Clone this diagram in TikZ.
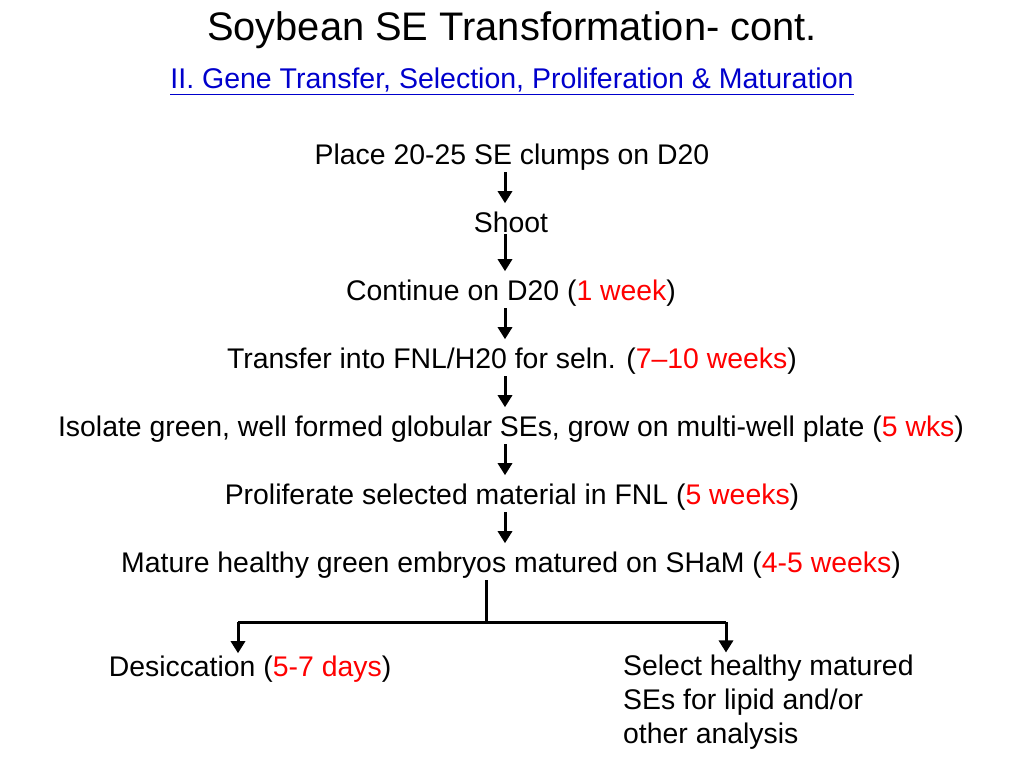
\documentclass[tikz,border=0pt]{standalone}
\usepackage{fontspec}
\setmainfont{Liberation Sans}
\usetikzlibrary{arrows.meta,positioning}
\definecolor{linkblue}{RGB}{0,0,204}
\definecolor{timered}{RGB}{255,0,0}
\newcommand{\dur}[1]{\textcolor{timered}{#1}}
\tikzset{
  stepnode/.style={anchor=base,inner sep=2bp,font=\fontsize{28.5}{34}\selectfont},
  flow/.style={line width=3bp,shorten >=6bp,-{Triangle[width=14bp,length=12bp]}},
  trunk/.style={line width=3bp}
}

\begin{document}
\begin{tikzpicture}[x=1bp,y=-1bp]
			\useasboundingbox (0,0) rectangle (1024,768);
			\node[anchor=base,font=\fontsize{40}{44}\selectfont] (title) at (512,41) {Soybean SE Transformation- cont.};
			\node[anchor=base,font=\fontsize{28.6}{32}\selectfont,text=linkblue] (sub) at (512,89) {\underline{II. Gene Transfer, Selection, Proliferation \&\ Maturation}};

			\node[stepnode] (place) at (512,164) {Place 20-25 SE clumps on D20};
			\node[stepnode] (shoot) at (511,232) {Shoot};
			\node[stepnode] (cont) at (511,300) {Continue on D20 (\dur{1 week})};
			\node[stepnode] (trans) at (512,368) {Transfer into FNL/H20 for seln. (\dur{7--10 weeks})};
			\node[stepnode] (iso) at (511,436) {Isolate green, well formed globular SEs, grow on multi-well plate (\dur{5 wks})};
			\node[stepnode] (prolif) at (512,504) {Proliferate selected material in FNL (\dur{5 weeks})};
			\node[stepnode] (mature) at (511,572) {Mature healthy green embryos matured on SHaM (\dur{4-5 weeks})};
			\node[stepnode] (desic) at (250,676) {Desiccation (\dur{5-7 days})};
			\node[stepnode,anchor=base west,align=left] (select) at (621,743) {Select healthy matured\\ SEs for lipid and/or\\ other analysis};

			\coordinate (fork) at (486,622);
			\coordinate (left) at (238,622);
			\coordinate (right) at (726,622);

			\draw[flow] (place.south -| 505,0) -- (shoot.north -| 505,0);
			\draw[flow] (shoot.south -| 505,0) -- (cont.north -| 505,0);
			\draw[flow] (cont.south -| 505,0) -- (trans.north -| 505,0);
			\draw[flow] (trans.south -| 505,0) -- (iso.north -| 505,0);
			\draw[flow] (iso.south -| 505,0) -- (prolif.north -| 505,0);
			\draw[flow] (prolif.south -| 505,0) -- (mature.north -| 505,0);

			\draw[trunk] (mature.south -| fork) -- (fork);
			\draw[trunk] (left) -- (right);
			\draw[flow,shorten >=0bp] (left) -- (desic.north -| left);
			\draw[flow,shorten >=0bp] (right) -- (select.north -| right);
		\end{tikzpicture}
\end{document}
